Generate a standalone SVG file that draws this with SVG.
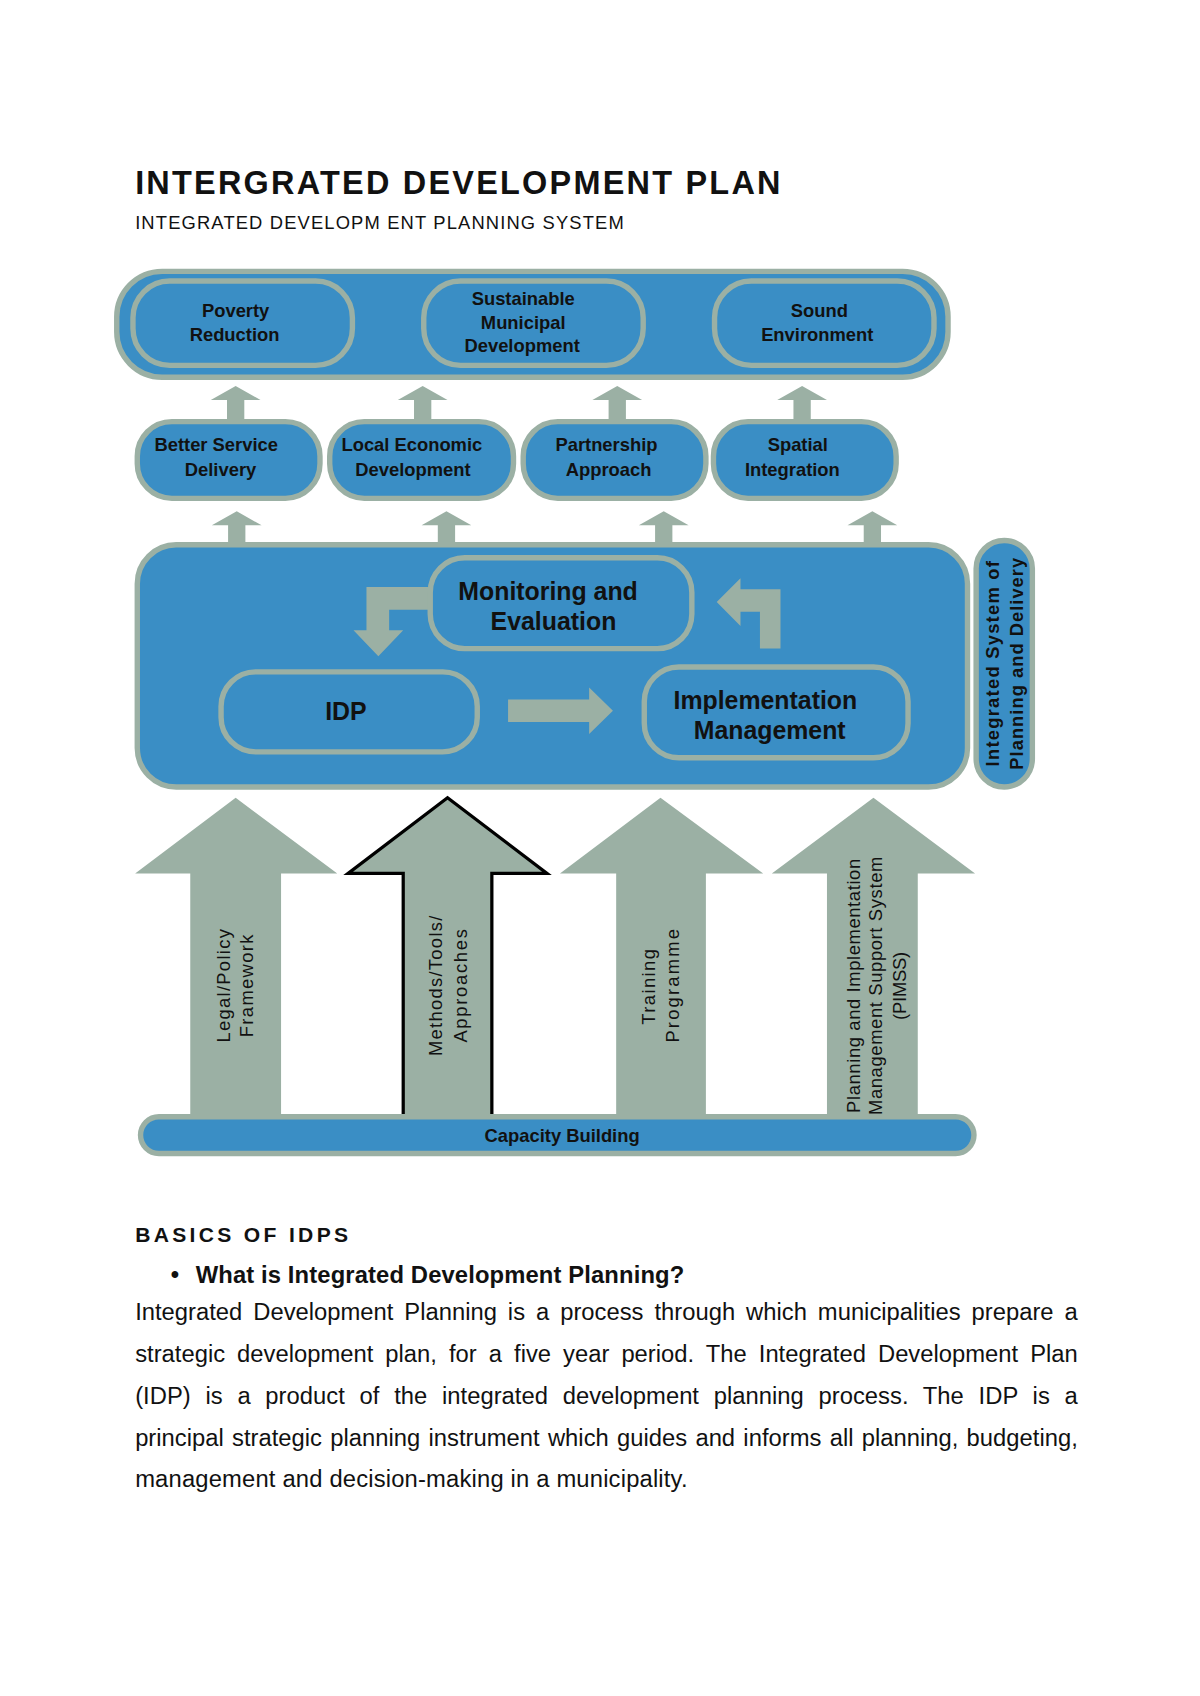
<svg xmlns="http://www.w3.org/2000/svg" width="1200" height="1696" viewBox="0 0 1200 1696">
<style>
.bx{fill:#3a8ec5;stroke:#9bb0a4;stroke-width:5}
.gr{fill:#9bb0a4}
.t{font-family:"Liberation Sans",Arial,sans-serif;fill:#111}
.b{font-weight:bold}
.lb{font-family:"Liberation Sans",Arial,sans-serif;font-weight:bold;font-size:17px;fill:#111;text-anchor:middle}
.bg{font-family:"Liberation Sans",Arial,sans-serif;font-weight:bold;font-size:23px;fill:#111;text-anchor:middle}
.ar{font-family:"Liberation Sans",Arial,sans-serif;font-size:17px;fill:#111;text-anchor:middle}
.p{font-family:"Liberation Sans",Arial,sans-serif;font-size:22px;fill:#111}
</style>
<rect width="1200" height="1696" fill="#fff"/>
<g transform="scale(1.081)">
<g id="heading">
<text class="t b" x="125" y="179.5" font-size="30" textLength="597">INTERGRATED DEVELOPMENT PLAN</text>
<text class="t" x="125" y="211.5" font-size="17" textLength="452">INTEGRATED DEVELOPM ENT PLANNING SYSTEM</text>
</g>

<g id="connectors">
<rect class="gr" x="326" y="294.5" width="66" height="8"/>
<rect class="gr" x="595" y="294.5" width="66" height="8"/>
<path class="gr" d="M210,392 V370 H195 L218,357 L241,370 H226 V392 Z"/>
<path class="gr" d="M383,392 V370 H368 L391,357 L414,370 H399 V392 Z"/>
<path class="gr" d="M563,392 V370 H548 L571,357 L594,370 H579 V392 Z"/>
<path class="gr" d="M734,392 V370 H719 L742,357 L765,370 H750 V392 Z"/>
<path class="gr" d="M211,507 V486 H196 L219,473 L242,486 H227 V507 Z"/>
<path class="gr" d="M405,507 V486 H390 L413,473 L436,486 H421 V507 Z"/>
<path class="gr" d="M606,507 V486 H591 L614,473 L637,486 H622 V507 Z"/>
<path class="gr" d="M799,507 V486 H784 L807,473 L830,486 H815 V507 Z"/>
</g>

<g id="top-goals">
<rect class="bx" x="108" y="251" width="769" height="98" rx="42" stroke-width="6"/>
</g>
<g id="poverty-reduction">
<rect class="bx" x="123" y="260" width="203" height="78" rx="34"/>
<text class="lb" x="218" y="293">Poverty</text>
<text class="lb" x="217" y="315">Reduction</text>
</g>
<g id="sustainable-municipal-development">
<rect class="bx" x="392" y="260" width="203" height="78" rx="34"/>
<text class="lb" x="484" y="282">Sustainable</text>
<text class="lb" x="484" y="304">Municipal</text>
<text class="lb" x="483" y="326">Development</text>
</g>
<g id="sound-environment">
<rect class="bx" x="661" y="260" width="203" height="78" rx="34"/>
<text class="lb" x="758" y="293">Sound</text>
<text class="lb" x="756" y="315">Environment</text>
</g>

<g id="better-service-delivery">
<rect class="bx" x="127" y="390" width="169" height="71" rx="32"/>
<text class="lb" x="200" y="417">Better Service</text>
<text class="lb" x="204" y="440">Delivery</text>
</g>
<g id="local-economic-development">
<rect class="bx" x="305" y="390" width="170" height="71" rx="32"/>
<text class="lb" x="381" y="417">Local Economic</text>
<text class="lb" x="382" y="440">Development</text>
</g>
<g id="partnership-approach">
<rect class="bx" x="484" y="390" width="169" height="71" rx="32"/>
<text class="lb" x="561" y="417">Partnership</text>
<text class="lb" x="563" y="440">Approach</text>
</g>
<g id="spatial-integration">
<rect class="bx" x="660" y="390" width="169" height="71" rx="32"/>
<text class="lb" x="738" y="417">Spatial</text>
<text class="lb" x="733" y="440">Integration</text>
</g>

<g id="cycle-frame">
<rect class="bx" x="127" y="504" width="768" height="224" rx="36"/>
</g>
<g id="cycle-arrows">
<path class="gr" d="M396,543 H339 V583 H327 L350,607 L373,583 H360 V564 H396 Z"/>
<path class="gr" d="M722,600 V545 H685 V535 L663,557 L685,579 V566 H703 V600 Z"/>
<path class="gr" d="M470,647 H545 V636 L567,657.5 L545,679 V668 H470 Z"/>
</g>
<g id="monitoring-evaluation">
<rect class="bx" x="398" y="516" width="242" height="84" rx="32"/>
<text class="bg" x="507" y="555" font-size="22">Monitoring and</text>
<text class="bg" x="512" y="583" font-size="22">Evaluation</text>
</g>
<g id="idp">
<rect class="bx" x="204.5" y="621.5" width="237" height="74" rx="32" stroke-width="9"/>
<text class="bg" x="320" y="666">IDP</text>
</g>
<g id="implementation-management">
<rect class="bx" x="596" y="617" width="244" height="84" rx="32"/>
<text class="bg" x="708" y="656">Implementation</text>
<text class="bg" x="712" y="684">Management</text>
</g>

<g id="integrated-system">
<rect class="bx" x="903" y="500" width="52" height="228" rx="26"/>
<text class="lb" transform="translate(924,614) rotate(-90)" textLength="190">Integrated System of</text>
<text class="lb" transform="translate(946,614) rotate(-90)" textLength="196">Planning and Delivery</text>
</g>

<g id="legal-policy-framework">
<path class="gr" d="M176,1040 V808 H125 L218,738 L312,808 H260 V1040 Z"/>
<text class="ar" transform="translate(213,912) rotate(-90)" textLength="105">Legal/Policy</text>
<text class="ar" transform="translate(234,912) rotate(-90)" textLength="95">Framework</text>
</g>
<g id="methods-tools-approaches">
<path class="gr" d="M373,1040 V808 H322 L414,738 L506,808 H455 V1040" stroke="#000" stroke-width="3"/>
<text class="ar" transform="translate(409,912) rotate(-90)" textLength="130">Methods/Tools/</text>
<text class="ar" transform="translate(432,912) rotate(-90)" textLength="105">Approaches</text>
</g>
<g id="training-programme">
<path class="gr" d="M570,1040 V808 H518 L611,738 L706,808 H653 V1040 Z"/>
<text class="ar" transform="translate(606,913) rotate(-90)" textLength="70">Training</text>
<text class="ar" transform="translate(628,912) rotate(-90)" textLength="105">Programme</text>
</g>
<g id="pimss">
<path class="gr" d="M765,1040 V808 H714 L808,738 L902,808 H849 V1040 Z"/>
<text class="ar" transform="translate(796,912) rotate(-90)" textLength="235">Planning and Implementation</text>
<text class="ar" transform="translate(816,912) rotate(-90)" textLength="239">Management Support System</text>
<text class="ar" transform="translate(838,912) rotate(-90)" textLength="63">(PIMSS)</text>
</g>

<g id="capacity-building">
<rect class="bx" x="130" y="1033" width="771" height="34" rx="17" stroke-width="4"/>
<text class="lb" x="520" y="1056" font-size="18">Capacity Building</text>
</g>

<g id="text-body">
<text class="t b" x="125" y="1149" font-size="19.5" textLength="197">BASICS OF IDPS</text>
<text class="t b" x="158" y="1187" font-size="22">•</text>
<text class="t b" x="181" y="1187" font-size="22" textLength="452">What is Integrated Development Planning?</text>
<text class="p" x="125" y="1221" word-spacing="4" textLength="872">Integrated Development Planning is a process through which municipalities prepare a</text>
<text class="p" x="125" y="1260" word-spacing="5" textLength="872">strategic development plan, for a five year period. The Integrated Development Plan</text>
<text class="p" x="125" y="1299" word-spacing="7.5" textLength="872">(IDP) is a product of the integrated development planning process. The IDP is a</text>
<text class="p" x="125" y="1338" word-spacing="1.5" textLength="872">principal strategic planning instrument which guides and informs all planning, budgeting,</text>
<text class="p" x="125" y="1376" textLength="511">management and decision-making in a municipality.</text>
</g>
</g>
</svg>
